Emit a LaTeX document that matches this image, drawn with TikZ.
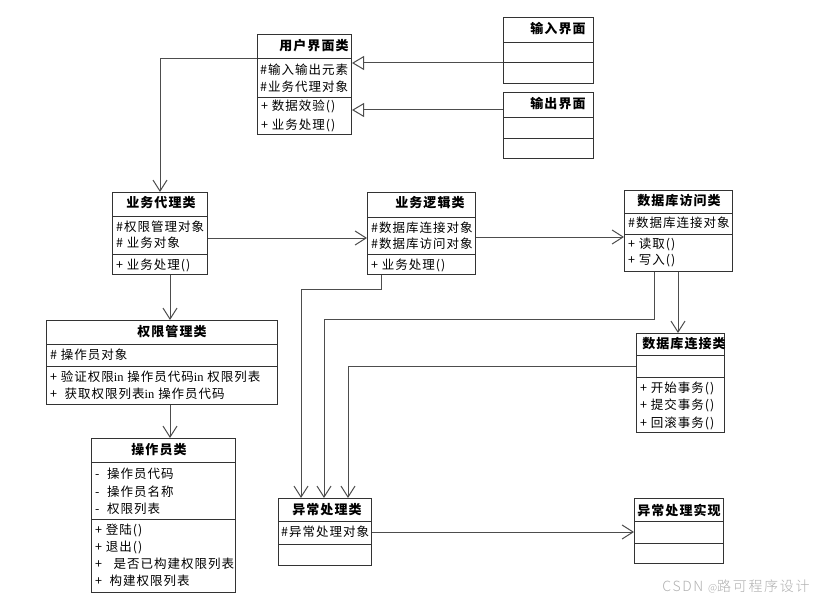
\documentclass[tikz,border=0pt]{standalone}
\usepackage{fontspec}
\setmainfont{Noto Sans CJK SC}[LetterSpace=8]
\newfontfamily\serifin{Liberation Serif}
\newfontfamily\wmfont{Noto Sans CJK SC Light}[LetterSpace=12]
\usetikzlibrary{arrows.meta}
\definecolor{boxc}{HTML}{333333}
\definecolor{linec}{HTML}{4D4D4D}
\definecolor{wmark}{HTML}{B0B0B0}
\newcommand\umlbox[5]{\node[box, anchor=north west, minimum width=#4pt, minimum height=#5pt] (#1) at (#2,#3) {};}
\newcommand\hsep[2]{\draw[sep] (#1.west |- 0,#2) -- (#1.east |- 0,#2);}
\newcommand\ttlnode[4]{\node[ttl] (#1) at (#2,#3) {#4};}
\newcommand\row[4]{\node[txt] (#1) at (#2,#3) {#4};}
\newcommand\inw{{\serifin in}}
\begin{document}
\begin{tikzpicture}[x=1pt,y=-1pt,
  box/.style={draw=boxc, line width=1pt, fill=white, inner sep=0pt},
  sep/.style={draw=boxc, line width=0.8pt},
  conn/.style={draw=linec, line width=1pt, -{Straight Barb[length=11pt,width=14pt]}},
  gen/.style={draw=linec, line width=1pt, -{Triangle[open,length=12pt,width=14pt,fill=white]}},
  ttl/.style={font=\fontsize{13}{15}\selectfont\bfseries, inner sep=0pt},
  txt/.style={font=\fontsize{12.5}{15}\selectfont, inner sep=0pt, anchor=west},
]
\fill[white] (0,0) rectangle (824,604);
\useasboundingbox (0,0) rectangle (824,604);

% boxes
\umlbox{ui}{257}{34}{94}{100}
\umlbox{inbox}{503}{17}{90}{66}
\umlbox{outbox}{503}{92}{90}{66}
\umlbox{proxy}{112}{192}{95}{82}
\umlbox{logic}{367}{192}{108}{82}
\umlbox{dba}{624}{190}{108}{81}
\umlbox{dbc}{636}{333}{88}{99}
\umlbox{perm}{46}{320}{231}{84}
\umlbox{op}{91}{438}{144}{154}
\umlbox{exc}{278}{498}{93}{67}
\umlbox{excimpl}{634}{498}{89}{65}

% separators
\hsep{ui}{58}\hsep{ui}{97}
\hsep{inbox}{42}\hsep{inbox}{62}
\hsep{outbox}{117}\hsep{outbox}{138}
\hsep{proxy}{216}\hsep{proxy}{254}
\hsep{logic}{217}\hsep{logic}{254}
\hsep{dba}{213}\hsep{dba}{234}
\hsep{dbc}{355}\hsep{dbc}{377}
\hsep{perm}{344}\hsep{perm}{366}
\hsep{op}{462}\hsep{op}{519}
\hsep{exc}{521}\hsep{exc}{544}
\hsep{excimpl}{521}\hsep{excimpl}{543}

% titles
\ttlnode{tui}{314}{46}{用户界面类}
\ttlnode{tin}{558}{29}{输入界面}
\ttlnode{tout}{558}{104}{输出界面}
\ttlnode{tproxy}{161}{203}{业务代理类}
\ttlnode{tlogic}{430}{203}{业务逻辑类}
\ttlnode{tdba}{679}{201}{数据库访问类}
\ttlnode{tdbc}{684}{344}{数据库连接类}
\ttlnode{tperm}{172}{332}{权限管理类}
\ttlnode{top}{159}{450}{操作员类}
\ttlnode{texc}{327}{510}{异常处理类}
\ttlnode{texcimpl}{679}{510}{异常处理实现}

% rows
\row{ua1}{260}{70}{\#输入输出元素}
\row{ua2}{260}{87}{\#业务代理对象}
\row{um1}{261}{106}{+ 数据效验()}
\row{um2}{261}{125}{+ 业务处理()}

\row{pa1}{116}{227}{\#权限管理对象}
\row{pa2}{116}{243}{\# 业务对象}
\row{pm1}{116}{265}{+ 业务处理()}

\row{la1}{371}{228}{\#数据库连接对象}
\row{la2}{371}{244}{\#数据库访问对象}
\row{lm1}{371}{265}{+ 业务处理()}

\row{da1}{628}{223}{\#数据库连接对象}
\row{dm1}{628}{244}{+ 读取()}
\row{dm2}{628}{261}{+ 写入()}

\row{cm1}{640}{388}{+ 开始事务()}
\row{cm2}{640}{405}{+ 提交事务()}
\row{cm3}{640}{423}{+ 回滚事务()}

\row{ma1}{50}{355}{\# 操作员对象}
\row{mm1}{50}{377}{+ 验证权限\inw\ 操作员代码\inw\ 权限列表}
\row{mm2}{50}{394}{+ \ 获取权限列表\inw\ 操作员代码}

\row{oa1}{95}{474}{- \ 操作员代码}
\row{oa2}{95}{492}{- \ 操作员名称}
\row{oa3}{95}{509}{- \ 权限列表}
\row{om1}{95}{530}{+ 登陆()}
\row{om2}{95}{547}{+ 退出()}
\row{om3}{95}{564}{+ \ \ 是否已构建权限列表}
\row{om4}{95}{581}{+ \ 构建权限列表}

\row{ea1}{281}{532}{\#异常处理对象}

% connectors
\draw[conn] (ui.west |- 0,59) -| (proxy.north);
\draw[conn] (proxy.east |- 0,238) -- (logic.west |- 0,238);
\draw[conn] (logic.east |- 0,237) -- (dba.west |- 0,237);
\draw[conn] (dba.south -| 678,0) -- (dbc.north -| 678,0);
\draw[conn] (proxy.south -| 170,0) -- (perm.north -| 170,0);
\draw[conn] (perm.south -| 170,0) -- (op.north -| 170,0);
\draw[conn] (logic.south -| 381,0) |- (301,289) -- (exc.north -| 301,0);
\draw[conn] (dba.south -| 654,0) |- (324,319) -- (exc.north -| 324,0);
\draw[conn] (dbc.west |- 0,366) -| (exc.north -| 348,0);
\draw[conn] (exc.east |- 0,532) -- (excimpl.west |- 0,532);
\draw[gen] (inbox.west |- 0,63) -- (ui.east |- 0,63);
\draw[gen] (outbox.west |- 0,110) -- (ui.east |- 0,110);

% watermark
\node[font=\wmfont\fontsize{14}{16}\selectfont, text=wmark, inner sep=0pt] (wm) at (736,586) {CSDN {\fontsize{10}{12}\selectfont @}路可程序设计};
\end{tikzpicture}
\end{document}
